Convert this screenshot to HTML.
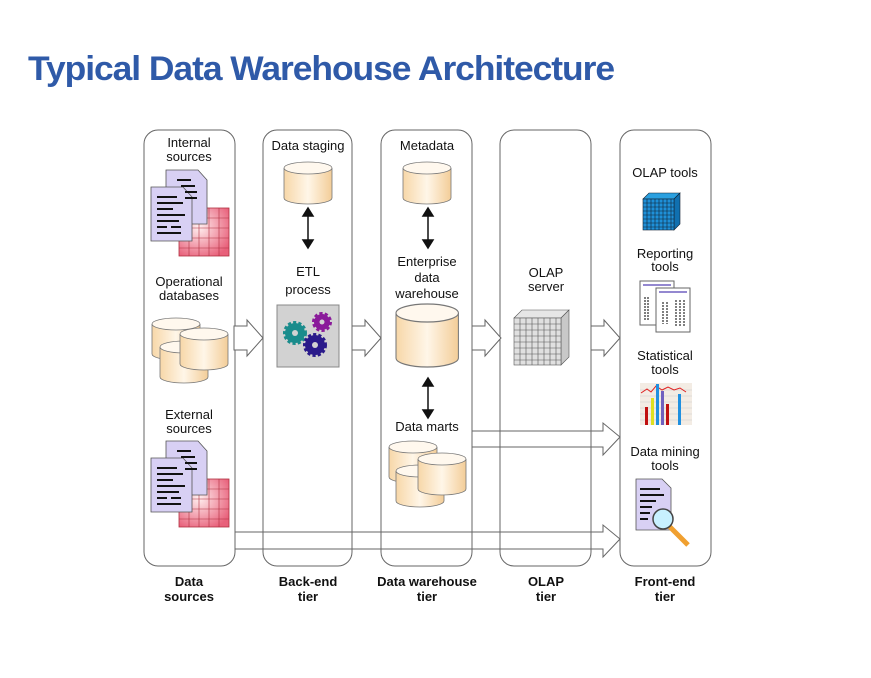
<!DOCTYPE html>
<html><head><meta charset="utf-8"><style>
body{margin:0;background:#fff;width:871px;height:678px;overflow:hidden}
svg{display:block}
text{font-family:"Liberation Sans",sans-serif}
</style></head><body>
<svg width="871" height="678" viewBox="0 0 871 678" xmlns="http://www.w3.org/2000/svg">
<defs>
<linearGradient id="cyl" x1="0" x2="1"><stop offset="0" stop-color="#f7d7a8"/><stop offset="0.5" stop-color="#fff6e8"/><stop offset="1" stop-color="#f3cd98"/></linearGradient>
<radialGradient id="grid" cx="0.4" cy="0.4" r="0.7"><stop offset="0" stop-color="#fff0f0"/><stop offset="1" stop-color="#e8607a"/></radialGradient>
<g id="cylA">
<path d="M0,6 v30 a24,6 0 0 0 48,0 v-30" fill="url(#cyl)" stroke="#777" stroke-width="0.8"/>
<ellipse cx="24" cy="6" rx="24" ry="6" fill="#fff8ee" stroke="#777" stroke-width="0.8"/>
</g>
<g id="docs">
<rect x="28" y="38" width="50" height="48" fill="url(#grid)" stroke="#b03040" stroke-width="0.8"/>
<path d="M28,48h50M28,58h50M28,68h50M28,78h50M38,38v48M48,38v48M58,38v48M68,38v48" stroke="#b03040" stroke-width="0.6"/>
<path d="M15,0h32l9,10v44h-41z" fill="#d8d0f4" stroke="#555" stroke-width="0.8"/>
<path d="M0,17h32l9,10v44h-41z" fill="#d8d0f4" stroke="#555" stroke-width="0.8"/>
<path d="M6,27h20M6,33h26M6,39h16M6,45h28M6,51h22M6,57h10M20,57h10M6,63h24M26,10h14M30,16h14M34,22h12M34,28h12" stroke="#111" stroke-width="2"/>
</g>
</defs>

<text x="28" y="80" font-size="34" font-weight="bold" fill="#2f5aa8" textLength="586" lengthAdjust="spacingAndGlyphs" style="letter-spacing:-1px">Typical Data Warehouse Architecture</text>

<g fill="none" stroke="#666" stroke-width="1">
<rect x="144" y="130" width="91" height="436" rx="14"/>
<rect x="263" y="130" width="89" height="436" rx="14"/>
<rect x="381" y="130" width="91" height="436" rx="14"/>
<rect x="500" y="130" width="91" height="436" rx="14"/>
<rect x="620" y="130" width="91" height="436" rx="14"/>
</g>
<g fill="#fff" stroke="#666" stroke-width="1">
<path d="M234,326h13v-6l16,18l-16,18v-6h-13z"/>
<path d="M352,326h13v-6l16,18l-16,18v-6h-13z"/>
<path d="M472,326h13v-6l16,18l-16,18v-6h-13z"/>
<path d="M591,326h13v-6l16,18l-16,18v-6h-13z"/>
</g>
<g fill="none" stroke="#666" stroke-width="1">
<path d="M472,431h131v-8l17,14l-17,18v-8h-131"/>
<path d="M235,532h368v-7l17,14l-17,18v-8h-368"/>
</g>

<g font-size="13" fill="#111" text-anchor="middle">
<text x="189" y="147">Internal</text><text x="189" y="161">sources</text>
<text x="189" y="286">Operational</text><text x="189" y="300">databases</text>
<text x="189" y="419">External</text><text x="189" y="433">sources</text>
<text x="308" y="150">Data staging</text>
<text x="308" y="276">ETL</text><text x="308" y="294">process</text>
<text x="427" y="150">Metadata</text>
<text x="427" y="266">Enterprise</text><text x="427" y="282">data</text><text x="427" y="298">warehouse</text>
<text x="427" y="431">Data marts</text>
<text x="546" y="277">OLAP</text><text x="546" y="291">server</text>
<text x="665" y="177">OLAP tools</text>
<text x="665" y="258">Reporting</text><text x="665" y="271">tools</text>
<text x="665" y="360">Statistical</text><text x="665" y="374">tools</text>
<text x="665" y="456">Data mining</text><text x="665" y="470">tools</text>
</g>
<g font-size="13" font-weight="bold" fill="#111" text-anchor="middle">
<text x="189" y="586">Data</text><text x="189" y="601">sources</text>
<text x="308" y="586">Back-end</text><text x="308" y="601">tier</text>
<text x="427" y="586">Data warehouse</text><text x="427" y="601">tier</text>
<text x="546" y="586">OLAP</text><text x="546" y="601">tier</text>
<text x="665" y="586">Front-end</text><text x="665" y="601">tier</text>
</g>

<use href="#docs" x="151" y="170"/>
<use href="#docs" x="151" y="441"/>

<use href="#cylA" x="152" y="318"/>
<use href="#cylA" x="160" y="341"/>
<use href="#cylA" x="180" y="328"/>

<use href="#cylA" x="284" y="162"/>
<use href="#cylA" x="403" y="162"/>
<g transform="translate(396,304) scale(1.3,1.5)"><use href="#cylA"/></g>
<use href="#cylA" x="389" y="441"/>
<use href="#cylA" x="396" y="465"/>
<use href="#cylA" x="418" y="453"/>

<g stroke="#111" stroke-width="1.5" fill="#111">
<path d="M308,214v28"/><path d="M303,216l5,-8l5,8z"/><path d="M303,240l5,8l5,-8z"/>
<path d="M428,214v28"/><path d="M423,216l5,-8l5,8z"/><path d="M423,240l5,8l5,-8z"/>
<path d="M428,384v28"/><path d="M423,386l5,-8l5,8z"/><path d="M423,410l5,8l5,-8z"/>
</g>

<rect x="277" y="305" width="62" height="62" fill="#d2d2d2" stroke="#888"/>
<circle cx="295" cy="333" r="10" fill="#1a8c8c" stroke="#1a8c8c" stroke-width="4" stroke-dasharray="3 2"/><circle cx="295" cy="333" r="3" fill="#d2d2d2"/>
<circle cx="322" cy="322" r="8" fill="#8a1a9a" stroke="#8a1a9a" stroke-width="4" stroke-dasharray="3 2"/><circle cx="322" cy="322" r="2.5" fill="#d2d2d2"/>
<circle cx="315" cy="345" r="10" fill="#2a1a8a" stroke="#2a1a8a" stroke-width="4" stroke-dasharray="3 2"/><circle cx="315" cy="345" r="3" fill="#d2d2d2"/>

<g stroke="#555" stroke-width="0.6">
<path d="M514,318l8,-8h47l-8,8z" fill="#e6e6e6"/>
<path d="M561,318l8,-8v47l-8,8z" fill="#c8c8c8"/>
<rect x="514" y="318" width="47" height="47" fill="#e0e0e0"/>
<path d="M520,318v47M526,318v47M532,318v47M538,318v47M544,318v47M550,318v47M556,318v47M514,324h47M514,330h47M514,336h47M514,342h47M514,348h47M514,354h47M514,360h47" fill="none"/>
</g>

<g stroke="#123" stroke-width="0.6">
<path d="M643,199l6,-6h31l-6,6z" fill="#2aa0e0"/>
<path d="M674,199l6,-6v31l-6,6z" fill="#1070b0"/>
<rect x="643" y="199" width="31" height="31" fill="#1e90d8"/>
<path d="M647,199v31M651,199v31M655,199v31M659,199v31M663,199v31M667,199v31M671,199v31M643,203h31M643,207h31M643,211h31M643,215h31M643,219h31M643,223h31M643,227h31" fill="none"/>
</g>

<rect x="640" y="281" width="34" height="44" fill="#fff" stroke="#666"/>
<rect x="656" y="288" width="34" height="44" fill="#fff" stroke="#666"/>
<path d="M643,285h28M659,292h28" stroke="#7060c0" stroke-width="1.5"/>
<path d="M645,297v24M648,297v24M663,302v22M667,302v22M676,300v26M680,300v26M684,300v26" stroke="#555" stroke-width="1.5" stroke-dasharray="2 1"/>

<rect x="640" y="383" width="52" height="42" fill="#f3ece4"/>
<path d="M640,390h52M640,396h52M640,402h52M640,408h52M640,414h52M640,420h52" stroke="#ccc" stroke-width="0.6"/>
<path d="M641,393l6,-4l4,3l5,-6l6,4l6,-3l6,3l6,-2l6,4" stroke="#e02020" fill="none"/>
<rect x="645" y="407" width="3" height="18" fill="#c01010"/>
<rect x="651" y="398" width="3" height="27" fill="#e0e020"/>
<rect x="656" y="384" width="3" height="41" fill="#2090e0"/>
<rect x="661" y="391" width="3" height="34" fill="#7060c0"/>
<rect x="666" y="404" width="3" height="21" fill="#c01010"/>
<rect x="678" y="394" width="3" height="31" fill="#2090e0"/>

<path d="M636,479h26l9,9v42h-35z" fill="#d8d0f4" stroke="#555" stroke-width="0.8"/>
<path d="M640,489h20M640,495h24M640,501h16M640,507h12M640,513h10M640,519h8" stroke="#111" stroke-width="2"/>
<path d="M668,525l20,20" stroke="#f0a030" stroke-width="5"/>
<circle cx="663" cy="519" r="10" fill="#c8f0ff" stroke="#444" stroke-width="1.5"/>
</svg>
</body></html>
